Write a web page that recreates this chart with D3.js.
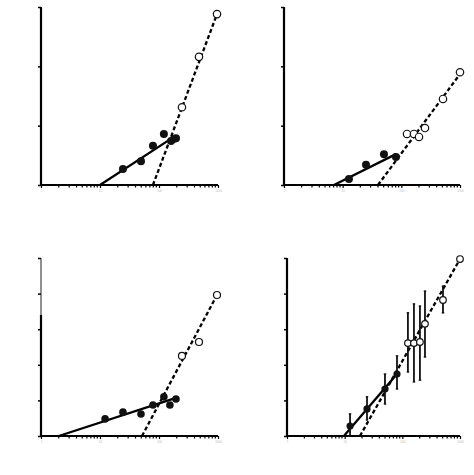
<!DOCTYPE html>
<html>
<head>
<meta charset="utf-8">
<script src="https://cdn.jsdelivr.net/npm/d3@7"></script>
<style>
	body { margin: 0; background: #fff; }
	svg { display: block; font-family: "Liberation Sans", Arial, sans-serif; }
</style>
</head>
<body>
<svg id="chart" width="474" height="475"></svg>
<script>
// shared axis values
var xDomain = [1, 1000];
var xTickValues = [1, 10, 100, 1000];
var xTickLabels = ['1', '10', '100', '1000'];

// panel a (top left): [x, y]
var aFilled = [[24.5, 0.27], [49.5, 0.40], [79, 0.66], [121, 0.86], [160, 0.74], [180, 0.78], [194, 0.79]];
var aOpen = [[245, 1.31], [476, 2.16], [962, 2.88]];
var aSolid = [[10, 0], [166, 0.79]];
var aDashed = [[79, 0], [962, 2.88]];

// panel b (top right)
var bFilled = [[12.8, 0.10], [25, 0.34], [50.6, 0.52], [81, 0.47]];
var bOpen = [[125, 0.86], [164, 0.86], [200, 0.81], [253, 0.96], [513, 1.45], [1000, 1.90]];
var bSolid = [[7.1, 0], [81, 0.52]];
var bDashed = [[40, 0], [1000, 1.87]];

// panel c (bottom left)
var cFilled = [[12.2, 0.48], [24.5, 0.67], [49.5, 0.62], [79, 0.87], [121, 1.10], [153, 0.87], [194, 1.04]];
var cOpen = [[245, 2.25], [476, 2.64], [962, 3.96]];
var cSolid = [[2.0, 0], [194, 1.07]];
var cDashed = [[51.5, 0], [962, 3.96]];

// panel d (bottom right): [x, y, low, high]
var dFilled = [[12.4, 0.28, 0, 0.62], [24.4, 0.76, 0.45, 1.10], [50, 1.32, 0.90, 1.74], [80.8, 1.74, 1.32, 2.25]];
var dOpen = [[125, 2.61, 1.80, 3.46], [159, 2.61, 1.52, 3.71], [202, 2.64, 1.57, 3.65],
	[247, 3.15, 2.22, 4.07], [507, 3.82, 3.46, 4.21], [1000, 4.97, 4.97, 4.97]];
var dSolid = [[9.7, 0], [80.8, 1.74]];
var dDashed = [[18.4, 0], [1000, 4.97]];

var panels = [
	{ left: 41, top: 7, right: 218, bottom: 185, yMax: 3, r: 4, filled: aFilled, open: aOpen, solid: aSolid, dashed: aDashed },
	{ left: 284, top: 7, right: 460, bottom: 185, yMax: 3, r: 4, filled: bFilled, open: bOpen, solid: bSolid, dashed: bDashed },
	{ left: 41, top: 258, right: 218, bottom: 436, yMax: 5, r: 3.8, filled: cFilled, open: cOpen, solid: cSolid, dashed: cDashed, thinTop: 3.4 },
	{ left: 287, top: 258, right: 460, bottom: 436, yMax: 5, r: 3.6, filled: dFilled, open: dOpen, solid: dSolid, dashed: dDashed, errors: true }
];

var svg = d3.select('#chart');

panels.forEach(function(p) {
	var x = d3.scaleLog().domain(xDomain).range([p.left, p.right]);
	var y = d3.scaleLinear().domain([0, p.yMax]).range([p.bottom, p.top]);
	var g = svg.append('g');

	// minor ticks for the log axis
	var minor = [];
	for (var dec = 1; dec < 1000; dec *= 10) {
		for (var m = 2; m < 10; m++) minor.push(dec * m);
	}

	// x axis
	var xAxis = g.append('g')
		.attr('transform', 'translate(0,' + p.bottom + ')')
		.call(d3.axisBottom(x).tickValues(xTickValues).tickSize(3)
			.tickFormat(function(d, i) { return xTickLabels[i]; }));
	xAxis.selectAll('text').attr('font-size', 3).attr('fill', '#bbb').attr('dy', '0.3em');
	xAxis.selectAll('.tick line').attr('stroke-width', 1.2);
	xAxis.select('.domain').attr('stroke-width', 2.2).attr('d', 'M' + p.left + ',0H' + p.right);
	xAxis.selectAll('.minor')
		.data(minor)
		.enter().append('line')
		.attr('class', 'minor')
		.attr('x1', function(d) { return x(d); })
		.attr('x2', function(d) { return x(d); })
		.attr('y1', 0).attr('y2', 2.5)
		.attr('stroke', '#000').attr('stroke-width', 1.2);

	// y axis
	var yAxis = g.append('g')
		.attr('transform', 'translate(' + p.left + ',0)')
		.call(d3.axisLeft(y).ticks(p.yMax).tickSize(3).tickFormat(''));
	yAxis.selectAll('.tick line').attr('stroke-width', 1.5);
	yAxis.select('.domain').attr('stroke-width', p.thinTop ? 1.3 : 2.2)
		.attr('stroke', p.thinTop ? '#555' : '#000')
		.attr('d', 'M0,' + p.top + 'V' + p.bottom);
	if (p.thinTop) {
		// the lower part of this axis is drawn heavier in the original
		yAxis.append('line')
			.attr('x1', 0).attr('x2', 0)
			.attr('y1', y(p.thinTop)).attr('y2', p.bottom)
			.attr('stroke', '#000').attr('stroke-width', 2.2);
	}

	var line = d3.line()
		.x(function(d) { return x(d[0]); })
		.y(function(d) { return y(d[1]); });

	g.append('path')
		.attr('d', line(p.solid))
		.attr('fill', 'none').attr('stroke', '#000').attr('stroke-width', 2.3);
	g.append('path')
		.attr('d', line(p.dashed))
		.attr('fill', 'none').attr('stroke', '#000').attr('stroke-width', 2.3)
		.attr('stroke-dasharray', '4,2.5');

	// error bars
	if (p.errors) {
		var all = p.filled.concat(p.open);
		var eb = g.selectAll('.err')
			.data(all)
			.enter().append('g')
			.attr('class', 'err');
		eb.append('line')
			.attr('x1', function(d) { return x(d[0]); })
			.attr('x2', function(d) { return x(d[0]); })
			.attr('y1', function(d) { return y(d[2]); })
			.attr('y2', function(d) { return y(d[3]); })
			.attr('stroke', '#111').attr('stroke-width', 1.8);
		[2, 3].forEach(function(k) {
			eb.append('line')
				.attr('x1', function(d) { return x(d[0]) - 1.2; })
				.attr('x2', function(d) { return x(d[0]) + 1.2; })
				.attr('y1', function(d) { return y(d[k]); })
				.attr('y2', function(d) { return y(d[k]); })
				.attr('stroke', '#111').attr('stroke-width', 1.5);
		});
	}

	g.selectAll('.filled')
		.data(p.filled)
		.enter().append('circle')
		.attr('class', 'filled')
		.attr('cx', function(d) { return x(d[0]); })
		.attr('cy', function(d) { return y(d[1]); })
		.attr('r', p.r)
		.attr('fill', '#111');

	g.selectAll('.open')
		.data(p.open)
		.enter().append('circle')
		.attr('class', 'open')
		.attr('cx', function(d) { return x(d[0]); })
		.attr('cy', function(d) { return y(d[1]); })
		.attr('r', p.r - 0.3)
		.attr('fill', '#fff').attr('stroke', '#111').attr('stroke-width', 1.2);
});
</script>
</body>
</html>
